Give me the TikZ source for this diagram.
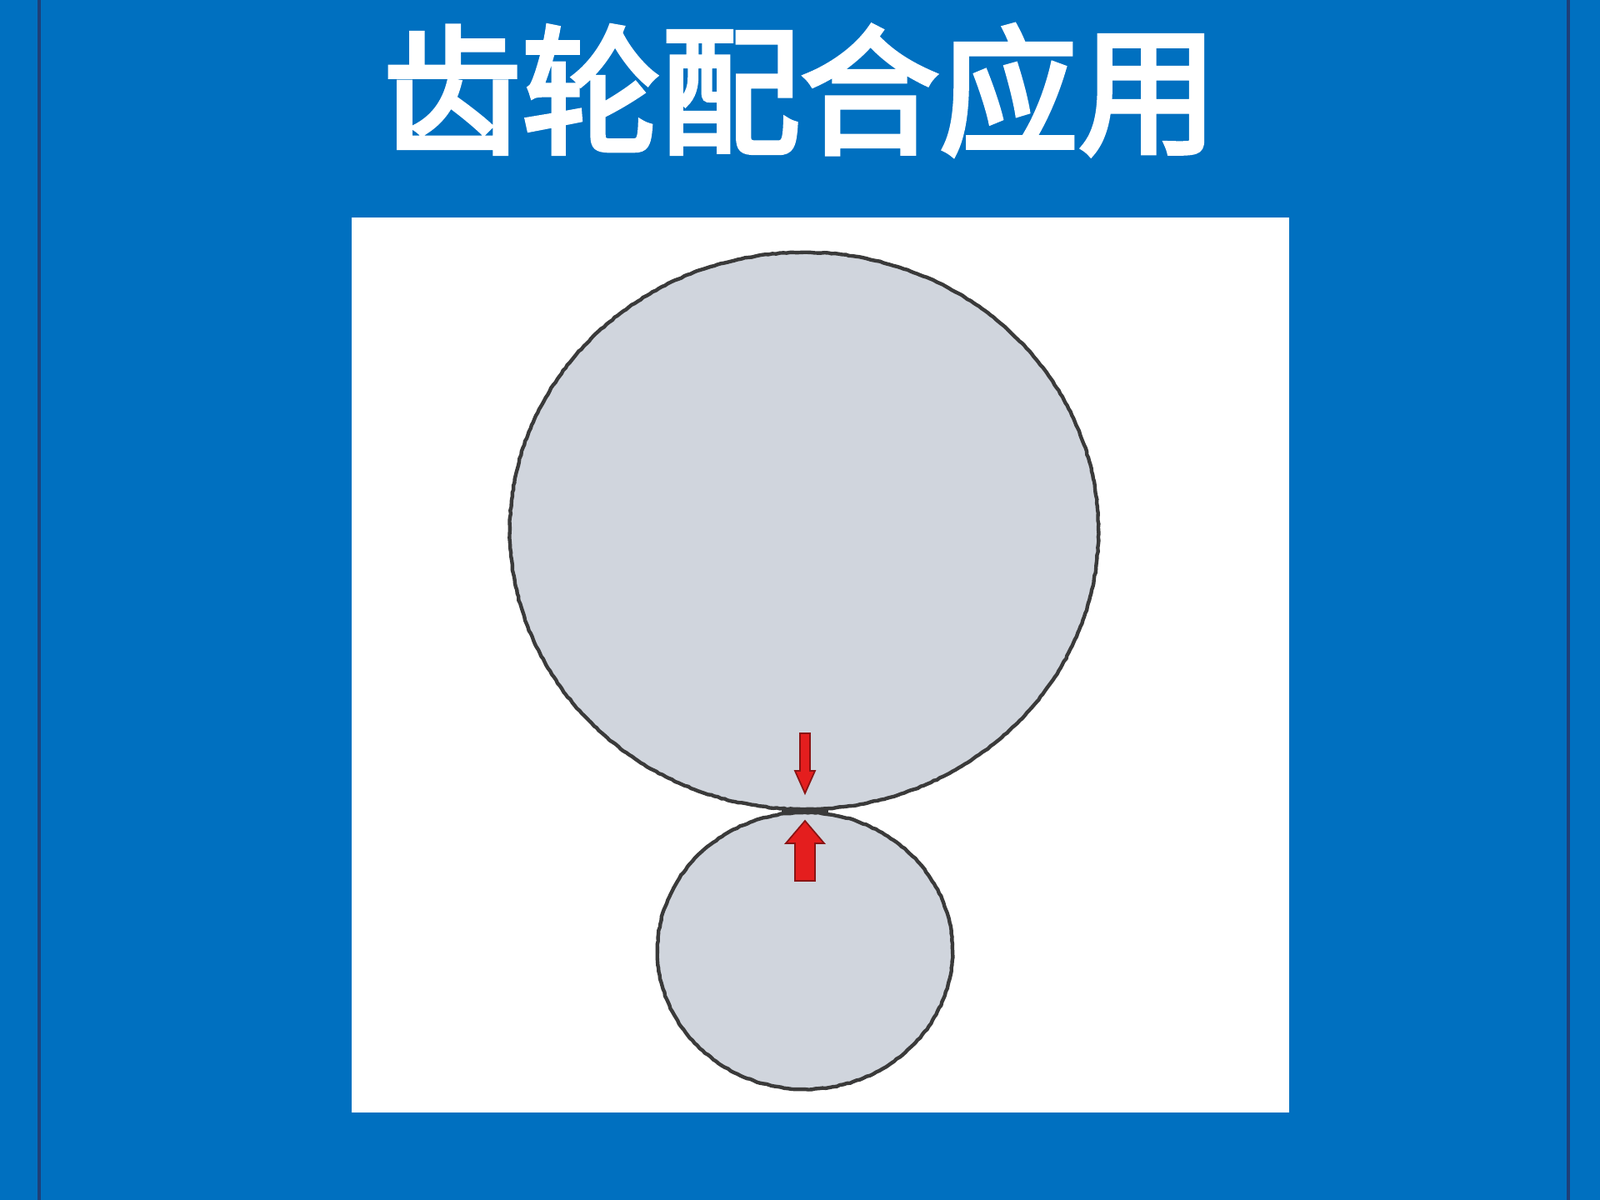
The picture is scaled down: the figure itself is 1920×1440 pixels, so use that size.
\documentclass[tikz,border=0pt]{standalone}
\usepackage{fontspec}
\newfontfamily\cjk[FakeBold=3.5]{Noto Sans CJK SC}
\usetikzlibrary{shapes.geometric,decorations.pathmorphing}
\definecolor{bgblue}{HTML}{0070C0}
\definecolor{edgeblue}{HTML}{1E3F78}
\definecolor{gearfill}{HTML}{D0D5DD}
\definecolor{gearline}{HTML}{3A3A3A}
\definecolor{arrowred}{HTML}{E41E1E}
\definecolor{arrowedge}{HTML}{8A1414}
\tikzset{
  gear/.style={ellipse, draw=gearline, fill=gearfill, line width=1.25pt, inner sep=0pt,
    decorate, decoration={random steps, segment length=1.2pt, amplitude=0.15pt}},
  redarrow/.style={fill=arrowred, draw=arrowedge, line width=0.5pt, line join=miter},
  border/.style={draw=edgeblue, line width=1.4pt},
}
\begin{document}
\begin{tikzpicture}[x=0.01cm, y=-0.01cm]
  \fill[bgblue] (0,0) rectangle (1920,1440);
  \useasboundingbox (0,0) rectangle (1920,1440);
  \coordinate (lt) at (47,0); \coordinate (lb) at (47,1440);
  \coordinate (rt) at (1882,0); \coordinate (rb) at (1882,1440);
  \draw[border] (lt) -- (lb);
  \draw[border] (rt) -- (rb);
  \node[text=white, font=\cjk\fontsize{47.5}{47.5}\selectfont] (title) at (960,108) {齿轮配合应用};
  \fill[white] (422,261) rectangle (1547,1335);
  \node[gear, minimum width=7.06cm, minimum height=6.68cm] (big) at (965,637) {};
  \node[gear, minimum width=3.54cm, minimum height=3.32cm] (small) at (966,1141) {};
  \coordinate (ca) at (938,973); \coordinate (cb) at (994,973);
  \draw[gearline, line width=1.1pt] (ca) -- (cb);
  \draw[redarrow] (960,880) -- (972,880) -- (972,925) -- (978,925) -- (966,952) -- (954,925) -- (960,925) -- cycle;
  \draw[redarrow] (966,985) -- (989,1012) -- (978,1012) -- (978,1057) -- (954,1057) -- (954,1012) -- (943,1012) -- cycle;
\end{tikzpicture}
\end{document}
